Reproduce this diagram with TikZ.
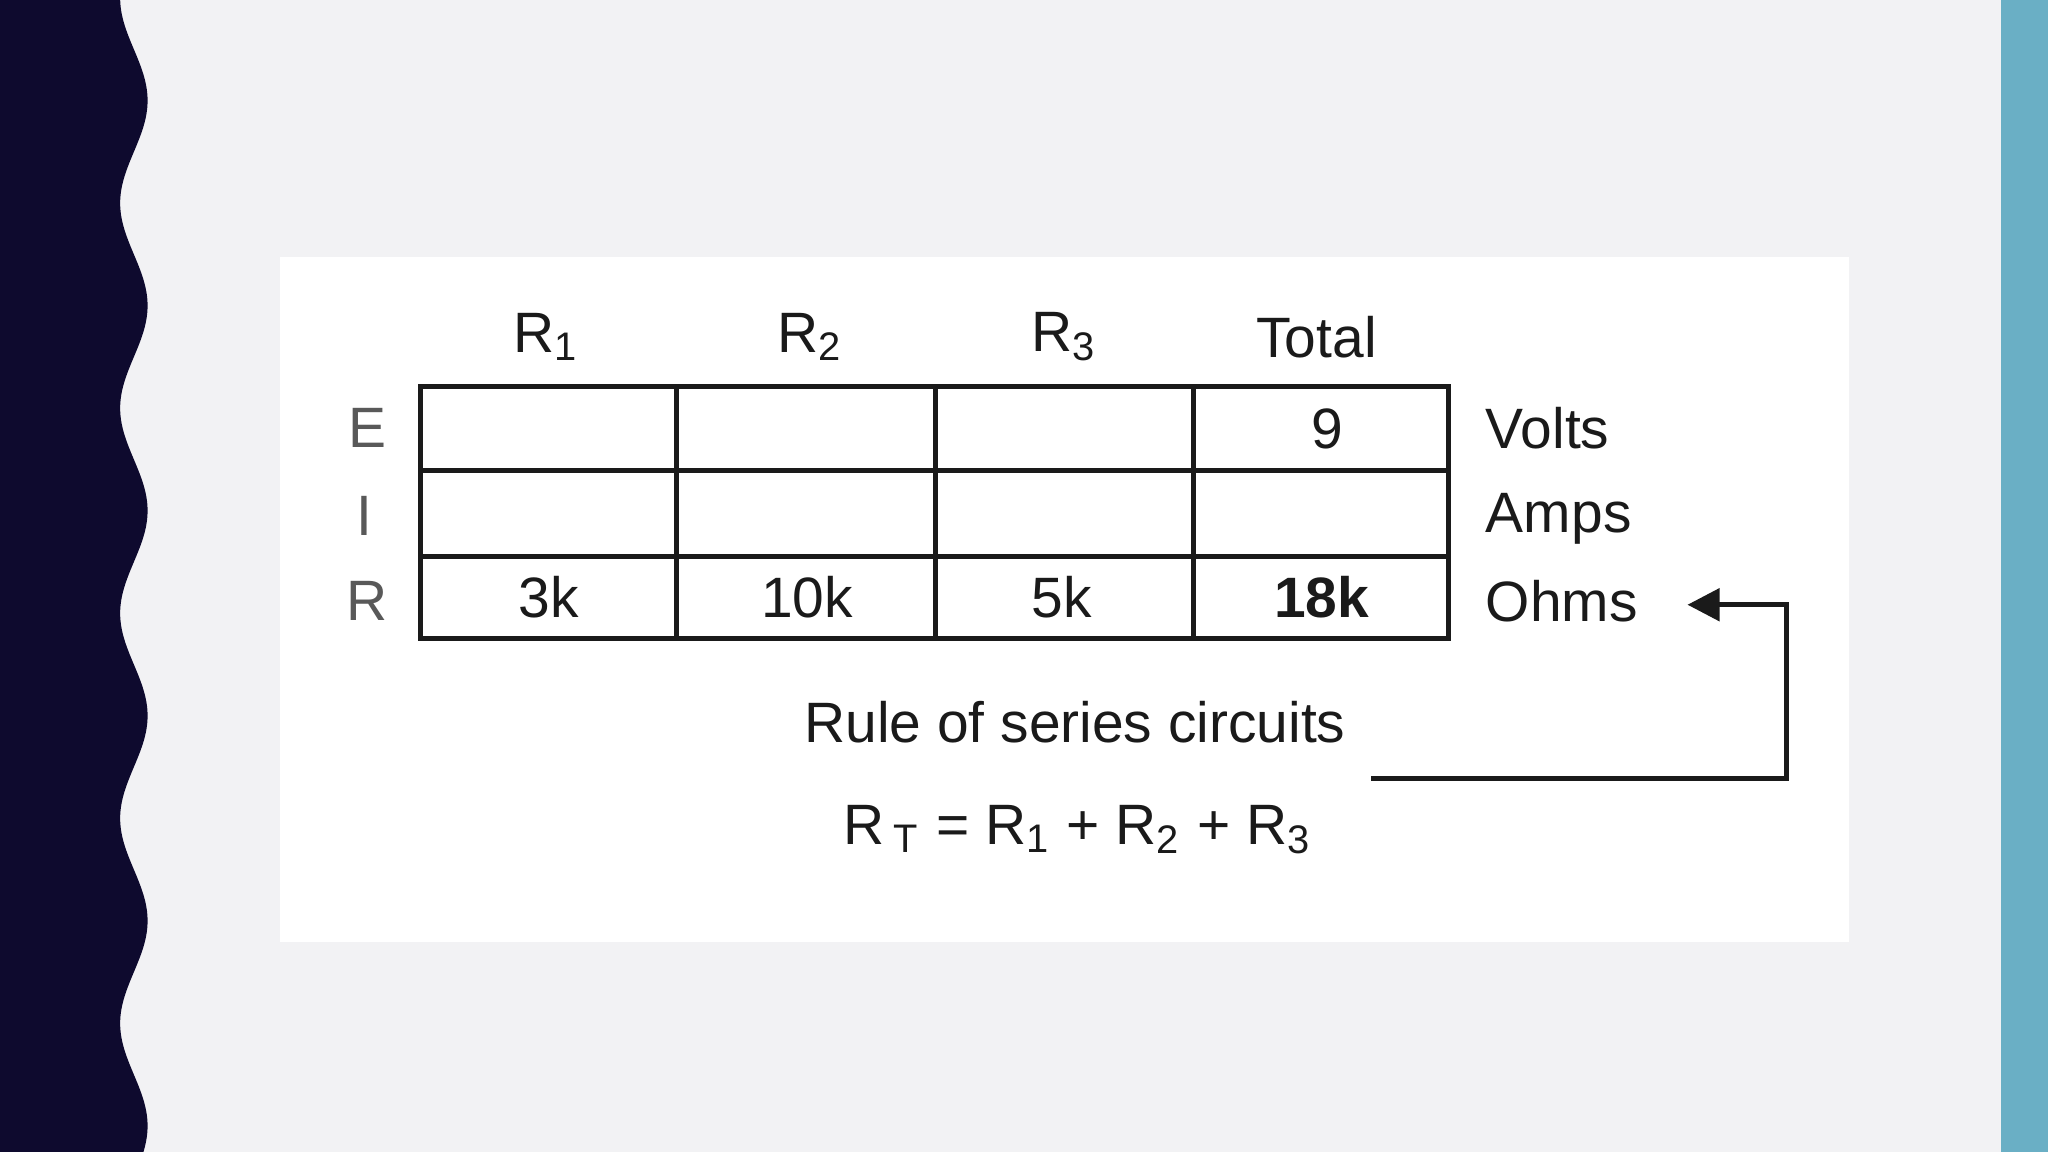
\documentclass[tikz,border=0pt]{standalone}
\usepackage{fontspec}
\setmainfont{Liberation Sans}
\usetikzlibrary{arrows.meta}
\definecolor{bg}{HTML}{F2F2F4}
\definecolor{navy}{HTML}{0E0A2E}
\definecolor{teal}{HTML}{6AAFC5}
\definecolor{ink}{HTML}{1A1A1A}
\tikzset{
  cell/.style={font=\fontsize{12.4pt}{14pt}\selectfont, text=ink, inner sep=0pt},
  grid/.style={line width=1.15pt, draw=ink},
  conn/.style={line width=1.1pt, draw=ink, -{Triangle[length=7pt,width=7pt]}}
}
\begin{document}
\begin{tikzpicture}[x=0.1mm,y=-0.1mm]
\useasboundingbox (0,0) rectangle (1568,882);
\fill[bg] (0,0) rectangle (1568,882);
\fill[navy] (0,0) -- plot[domain=0:882,samples=240,smooth] ({102.5+10.5*cos(2.293*(\x-77))},\x) -- (0,882) -- cycle;
\fill[teal] (1532,0) rectangle (1568,882);
\fill[white] (214,197) rectangle (1416,721);
% table
\draw[grid] (322,296) rectangle (1109,489);
\foreach \x in {518,716,914} \draw[grid] (\x,296) -- (\x,489);
\foreach \y in {360,426} \draw[grid] (322,\y) -- (1109,\y);
% headers
\node[cell] (h1) at (418,258) {R\textsubscript{1}};
\node[cell] (h2) at (620,258) {R\textsubscript{2}};
\node[cell] (h3) at (815,258) {R\textsubscript{3}};
\node[cell] (h4) at (1008,258) {Total};
\node[cell,text=black!65] (rE) at (281,328) {E};
\node[cell,text=black!65] (rI) at (279,395) {I};
\node[cell,text=black!65] (rR) at (281,460) {R};
\node[cell] (v9) at (1016,328) {9};
\node[cell] (c1) at (420,457) {3k};
\node[cell] (c2) at (618,457) {10k};
\node[cell] (c3) at (813,457) {5k};
\node[cell,font=\fontsize{12.4pt}{14pt}\selectfont\bfseries] (c4) at (1012,457) {18k};
\node[cell,anchor=west] (volts) at (1137,328) {Volts};
\node[cell,anchor=west] (amps) at (1137,397) {Amps};
\node[cell,anchor=west] (ohms) at (1137,460) {Ohms};
\node[cell] (rule) at (823,553) {Rule of series circuits};
\node[cell] (formula) at (825,635) {R\,\textsubscript{T} = R\textsubscript{1} + R\textsubscript{2} + R\textsubscript{3}};
\coordinate (s) at (1050,596);
\coordinate (tip) at (1292,463);
\draw[conn] (s) -- (1368,596) -- (1368,463) -- (tip);
\end{tikzpicture}
\end{document}
